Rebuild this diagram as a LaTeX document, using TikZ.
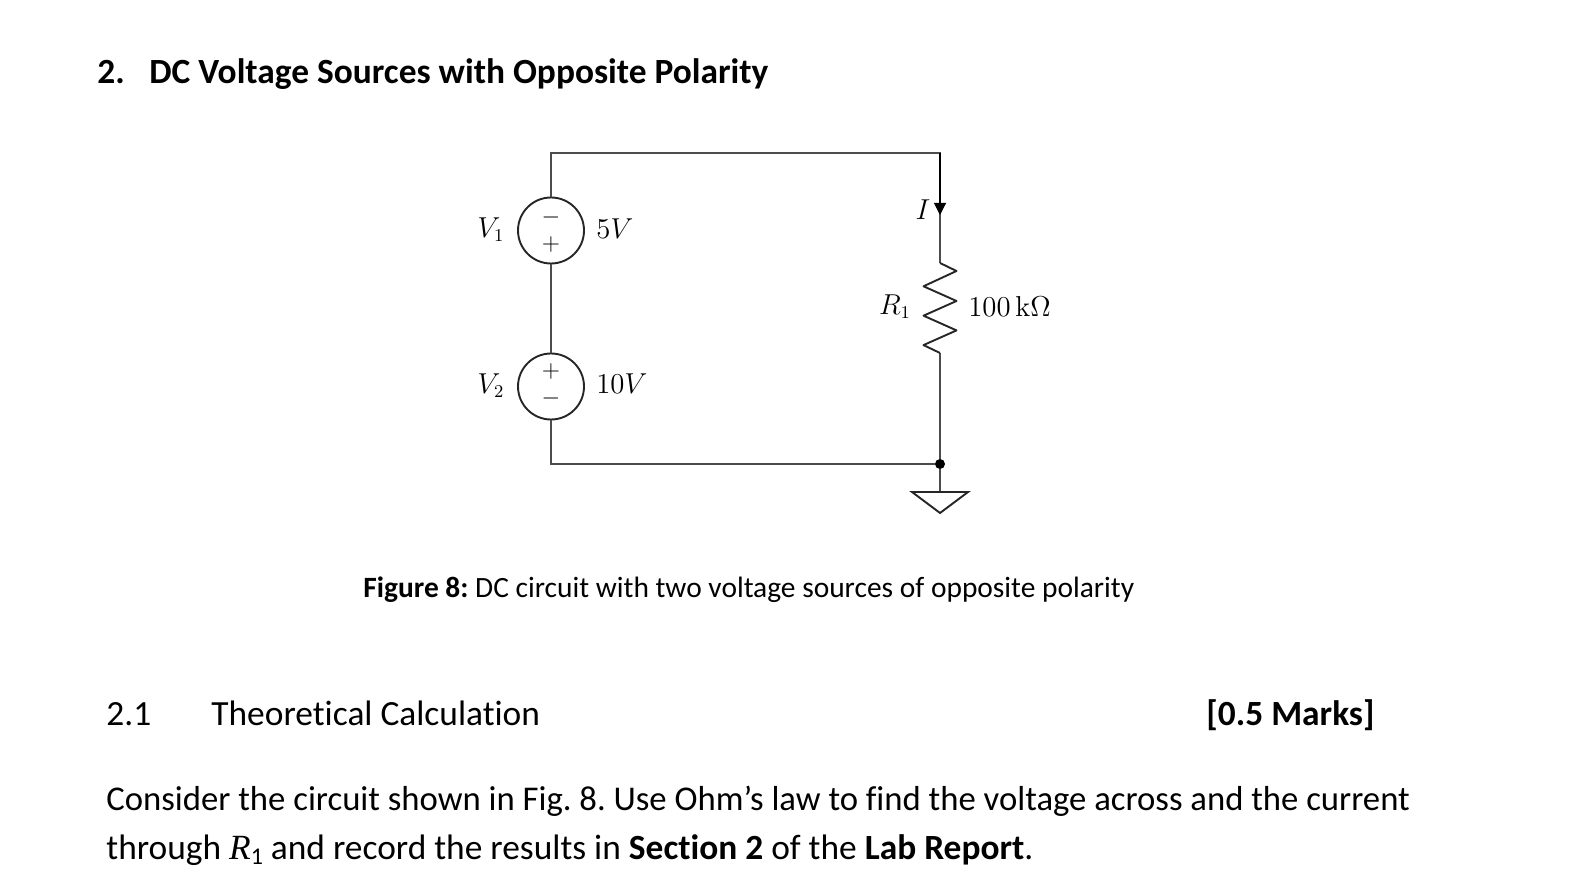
\documentclass[tikz,border=0pt]{standalone}
\usepackage[no-math]{fontspec}
\usepackage{amsmath}
\usetikzlibrary{arrows.meta}
\setmainfont[Ligatures=NoCommon]{Carlito}
\newfontfamily\varfont{Liberation Serif}
\frenchspacing
\tikzset{
  wire/.style={line width=0.55pt, draw=black!70},
  source/.style={draw, circle, line width=0.95pt, minimum size=33pt, inner sep=0pt, draw=black!85},
  cktlabel/.style={font=\fontsize{13.5}{16}\selectfont, inner sep=0pt},
  sign/.style={font=\fontsize{13}{15}\selectfont, inner sep=0pt},
  doctext/.style={font=\fontsize{17.35}{20}\selectfont, anchor=base west, inner sep=0pt},
  heading/.style={font=\fontsize{17.7}{20}\selectfont\bfseries, anchor=base west, inner sep=0pt}
}
\begin{document}
\begin{tikzpicture}[x=0.5pt, y=-0.5pt]
				\useasboundingbox (0, 0) rectangle (1580, 892);
				% heading
				\node[heading] (num)at(97, 84) {2.};
				\node[heading] (title)at(149, 84) {DC Voltage Sources with Opposite Polarity};
				% sources
				\node[source] (V1)at(551, 230.5) {};
				\node[source] (V2)at(551, 386.5) {};
				\node[sign] (V1m)at(551, 218) {$-$};
				\node[sign] (V1p)at(551, 245) {$+$};
				\node[sign] (V2p)at(551, 372) {$+$};
				\node[sign] (V2m)at(551, 399) {$-$};
				\node[cktlabel] (V1name)at(491, 230) {$V_1$};
				\node[cktlabel] (V2name)at(491, 386) {$V_2$};
				\node[cktlabel, anchor=west] (V1val)at(596, 228.5) {$5V$};
				\node[cktlabel, anchor=west] (V2val)at(596, 383.5) {$10V$};
				% corners and resistor ends
				\coordinate (TL)at(551, 153);
				\coordinate (TR)at(940, 153);
				\coordinate (IT)at(940, 215);
				\coordinate (RT)at(940, 263);
				\coordinate (RB)at(940, 353);
				\coordinate (BL)at(551, 464);
				\node[circle, fill=black, minimum size=5pt, inner sep=0pt] (J)at(940, 464) {};
				\coordinate (GT)at(940, 492);
				\coordinate (GL)at(912, 492);
				\coordinate (GR)at(968, 492);
				\coordinate (GB)at(940, 513);
				% wires
				\draw[wire] (V1) -- (TL) -- (TR) -- (RT);
				\draw[wire] (V1) -- (V2);
				\draw[wire] (V2) -- (BL) -- (J);
				\draw[wire] (RB) -- (J);
				\draw[wire] (J) -- (GT);
				% current arrow
				\draw[-{Triangle[length=6pt, width=6pt]}, wire, draw=black] (TR) -- (IT);
				\node[cktlabel] (Iname)at(923, 210) {$I$};
				% resistor
				\draw[line width=0.95pt, draw=black!85, line join=round] (RT) -- ++(16.5, 8) -- ++(-33, 15.3) -- ++(33, 14.7) -- ++(-33, 14.7) -- ++(33, 14.7) -- ++(-33, 14.7) -- (RB);
				\node[cktlabel] (R1name)at(895, 307) {$R_1$};
				\node[cktlabel, anchor=west] (R1val)at(968, 307) {$100\,\mathrm{k}\Omega$};
				% ground
				\draw[line width=0.95pt, draw=black!85] (GL) -- (GR) -- (GB) -- cycle;
				% caption
				\node[doctext, font=\fontsize{14.72}{17}\selectfont] (cap)at(363, 598) {\textbf{Figure 8:} DC circuit with two voltage sources of opposite polarity};
				% section
				\node[doctext, font=\fontsize{17.7}{20}\selectfont] (secnum)at(106, 725.5) {2.1};
				\node[doctext, font=\fontsize{17.7}{20}\selectfont] (sectitle)at(211, 725.5) {Theoretical Calculation};
				\node[heading] (marks)at(1206, 725.5) {[0.5 Marks]};
				\node[doctext] (line1)at(106, 810) {Consider the circuit shown in Fig. 8. Use Ohm’s law to find the voltage across and the current};
				\node[doctext, font=\fontsize{17.7}{20}\selectfont] (line2)at(106, 859) {through {\varfont\itshape R}\raisebox{-2.5pt}{\fontsize{12}{14}\selectfont 1} and record the results in \textbf{Section 2} of the \textbf{Lab Report}.};
			\end{tikzpicture}
\end{document}
